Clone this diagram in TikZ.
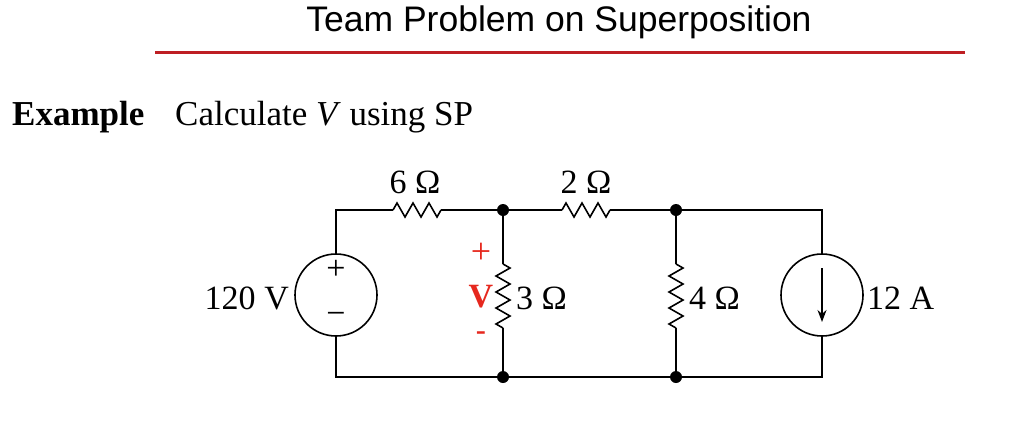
\documentclass[tikz,border=0pt]{standalone}
\usepackage{fontspec}
\setmainfont{Liberation Serif}
\newfontfamily\sansf{Liberation Sans}
\usetikzlibrary{decorations.pathmorphing,arrows.meta}
\definecolor{dred}{RGB}{190,30,35}
\definecolor{vred}{RGB}{230,40,30}
\begin{document}
\begin{tikzpicture}[x=1pt,y=-1pt,
  wire/.style={line width=1.6pt},
  res/.style={line width=1.6pt,decorate,decoration={zigzag,segment length=16pt,amplitude=7pt}},
  lab/.style={font=\fontsize{34}{34}\selectfont,inner sep=0pt},
  dot/.style={circle,fill=black,inner sep=0pt,minimum size=12pt}]
\useasboundingbox (0,0) rectangle (1024,437);
\node[font=\sansf\fontsize{35.5}{36}\selectfont] (title) at (559,22) {Team Problem on Superposition};
\draw[dred,line width=3pt] (155,52) -- (965,52);
\node[anchor=west,font=\fontsize{35}{35}\selectfont\bfseries,inner sep=0pt] (ex) at (12,117) {Example};
\node[anchor=west,font=\fontsize{35}{35}\selectfont,inner sep=0pt] (calc) at (175,117) {Calculate \textit{V} using SP};
% nodes
\coordinate (tl) at (336,210); \coordinate (bl) at (336,377);
\node[dot] (n1) at (503,210) {}; \node[dot] (n2) at (676,210) {};
\node[dot] (n3) at (503,377) {}; \node[dot] (n4) at (676,377) {};
\coordinate (tr) at (822,210); \coordinate (br) at (822,377);
\node[circle,draw,line width=1.6pt,minimum size=82pt,inner sep=0pt] (vs) at (336,295) {};
\node[circle,draw,line width=1.6pt,minimum size=82pt,inner sep=0pt] (cs) at (822,295) {};
\node[lab] at (336,270) {+};
\node[lab] at (336,318) {\textminus};
\draw[line width=1.6pt,-{Stealth[length=12pt,width=9pt]}] (822,268) -- (822,322);
% wires and resistors
\coordinate (r6a) at (393,210); \coordinate (r6b) at (441,210);
\coordinate (r2a) at (562,210); \coordinate (r2b) at (610,210);
\coordinate (r3a) at (503,264); \coordinate (r3b) at (503,328);
\coordinate (r4a) at (676,264); \coordinate (r4b) at (676,328);
\draw[wire] (vs) -- (tl) -- (r6a); \draw[res] (r6a) -- (r6b); \draw[wire] (r6b) -- (n1) -- (r2a);
\draw[res] (r2a) -- (r2b); \draw[wire] (r2b) -- (n2) -- (tr) -- (cs);
\draw[wire] (cs) -- (br) -- (n4) -- (n3) -- (bl) -- (vs);
\draw[wire] (n1) -- (r3a); \draw[res] (r3a) -- (r3b); \draw[wire] (r3b) -- (n3);
\draw[wire] (n2) -- (r4a); \draw[res] (r4a) -- (r4b); \draw[wire] (r4b) -- (n4);
% labels
\node[lab] at (415,182) {6 Ω};
\node[lab] at (586,182) {2 Ω};
\node[lab,anchor=west] at (516,298) {3 Ω};
\node[lab,anchor=west] at (689,298) {4 Ω};
\node[lab,anchor=east] at (289,298) {120 V};
\node[lab,anchor=west] at (867,298) {12 A};
\node[lab,text=vred,font=\fontsize{34}{34}\selectfont\bfseries] at (481,297) {V};
\node[lab,text=vred,font=\fontsize{36}{36}\selectfont] at (481,253) {+};
\node[lab,text=vred,font=\sansf\fontsize{32}{32}\selectfont] at (481,337) {-};
\end{tikzpicture}
\end{document}
